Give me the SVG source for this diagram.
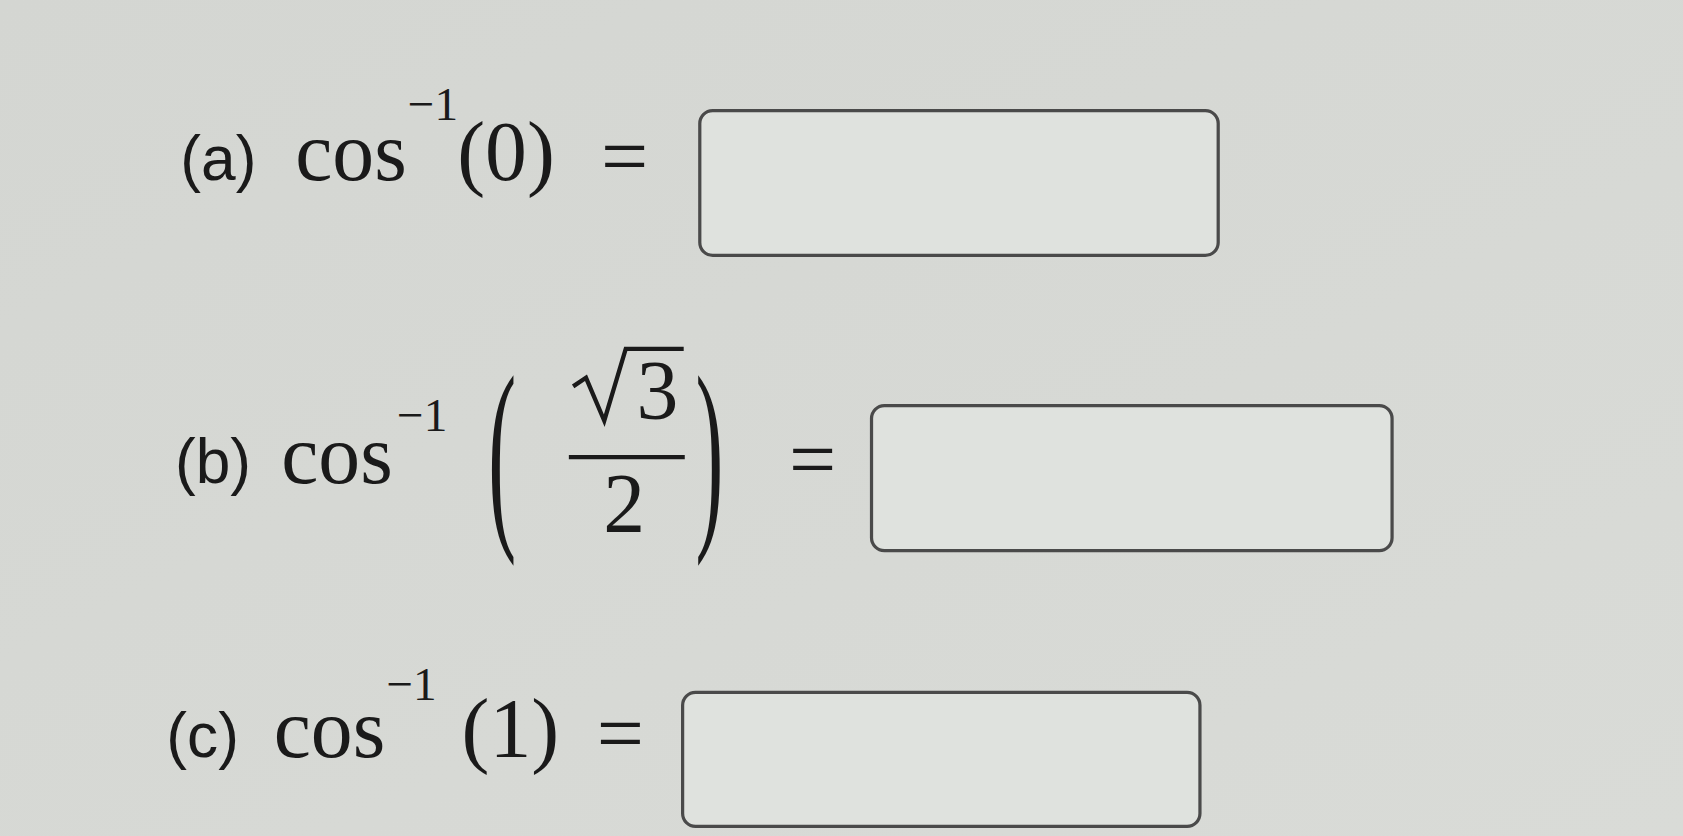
<svg xmlns="http://www.w3.org/2000/svg" width="1683" height="836" viewBox="0 0 1683 836">
<style>
.l{font-family:"Liberation Sans",Arial,sans-serif;font-size:58px;fill:#1a1a1a}
.m{font-family:"Liberation Serif","Times New Roman",serif;font-size:78px;fill:#1a1a1a}
.s{font-family:"Liberation Serif","Times New Roman",serif;font-size:44px;fill:#1a1a1a}
.box{fill:#dfe2de;stroke:#4a4a4a;stroke-width:3}
</style>
<defs><linearGradient id="bg" x1="0" y1="0" x2="1" y2="1"><stop offset="0" stop-color="#d4d6d2"/><stop offset="1" stop-color="#d9dbd7"/></linearGradient></defs>
<rect width="1683" height="836" fill="url(#bg)"/>
<g transform="scale(1.0733)">
<g id="a">
<text class="l" x="168" y="168">(a)</text>
<text class="m" x="275" y="168">cos</text>
<text class="s" x="380" y="112">−1</text>
<text class="m" x="426" y="168">(0)</text>
<text class="m" x="560" y="172">=</text>
<rect class="box" x="652" y="103" width="483" height="135" rx="12"/>
</g>
<g id="b">
<text class="l" x="163" y="450">(b)</text>
<text class="m" x="262" y="450">cos</text>
<text class="s" x="370" y="402">−1</text>
<text class="m" x="455" y="505" transform="translate(455 505) scale(1 2.5) translate(-455 -505)" dy="-8">(</text>
<path d="M534 360 L546 352 L563 392 L583 325 L637 325" fill="none" stroke="#1a1a1a" stroke-width="4"/>
<text class="m" x="593" y="390">3</text>
<line x1="530" y1="426" x2="638" y2="426" stroke="#1a1a1a" stroke-width="4"/>
<text class="m" x="562" y="496">2</text>
<text class="m" x="648" y="505" transform="translate(648 505) scale(1 2.5) translate(-648 -505)" dy="-8">)</text>
<text class="m" x="735" y="455">=</text>
<rect class="box" x="812" y="378" width="485" height="135" rx="12"/>
</g>
<g id="c">
<text class="l" x="155" y="705">(c)</text>
<text class="m" x="255" y="705">cos</text>
<text class="s" x="360" y="652">−1</text>
<text class="m" x="430" y="705">(1)</text>
<text class="m" x="556" y="710">=</text>
<rect class="box" x="636" y="645" width="482" height="125" rx="12"/>
</g>
</g>
</svg>
